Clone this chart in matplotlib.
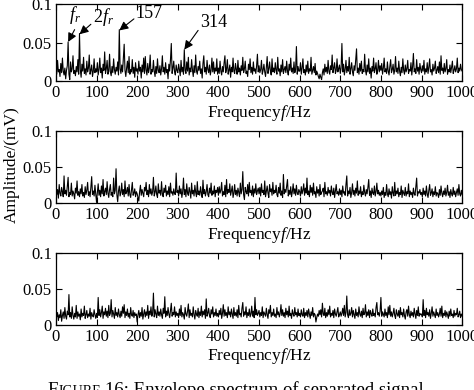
import numpy as np
import matplotlib
matplotlib.use("Agg")
import matplotlib.pyplot as plt

plt.rcParams['font.family'] = ['Liberation Serif', 'DejaVu Serif']
plt.rcParams['mathtext.fontset'] = 'custom'
plt.rcParams['mathtext.rm'] = 'Liberation Serif'
plt.rcParams['mathtext.it'] = 'Liberation Serif:italic'

# amplitudes in units of 0.001 mV, one value every 2 Hz from 0 to 1000 Hz
amp1 = [
    18, 9, 27, 12, 15, 6, 23, 11, 30, 13, 8, 17, 3, 14, 20, 51, 9, 2, 25, 12, 16, 33, 10, 14, 7,
    19, 12, 28, 9, 62, 15, 5, 22, 13, 31, 10, 16, 8, 26, 12, 17, 34, 9, 14, 21, 6, 13, 29, 11, 16,
    12, 24, 8, 15, 30, 11, 17, 4, 22, 14, 38, 10, 16, 27, 9, 13, 35, 12, 7, 19, 11, 29, 15, 9, 18,
    13, 25, 8, 67, 16, 10, 21, 12, 31, 48, 14, 6, 17, 26, 11, 32, 9, 15, 12, 28, 10, 18, 5, 24, 13,
    16, 9, 26, 13, 18, 4, 21, 12, 30, 10, 32, 14, 8, 23, 11, 17, 34, 9, 15, 12, 27, 13, 6, 19, 10,
    29, 14, 11, 20, 8, 16, 33, 12, 18, 9, 24, 11, 15, 3, 22, 13, 28, 49, 10, 17, 26, 12, 8, 21, 14,
    11, 22, 15, 7, 27, 12, 18, 9, 41, 14, 10, 25, 13, 31, 8, 17, 12, 28, 15, 6, 20, 11, 34, 13, 9,
    19, 14, 26, 10, 16, 4, 23, 33, 12, 18, 9, 27, 15, 11, 21, 8, 14, 30, 12, 25, 10, 17, 13, 29, 9,
    17, 10, 26, 13, 8, 19, 12, 24, 33, 11, 16, 28, 9, 14, 21, 5, 18, 12, 30, 13, 10, 23, 15, 9, 27,
    12, 17, 8, 20, 14, 31, 11, 16, 26, 10, 13, 6, 22, 15, 29, 11, 18, 9, 25, 13, 16, 10, 20, 35, 12,
    20, 11, 15, 27, 9, 14, 22, 12, 6, 18, 32, 10, 16, 25, 13, 8, 29, 12, 17, 11, 24, 14, 9, 31, 13,
    16, 7, 21, 12, 28, 10, 15, 19, 11, 26, 13, 8, 22, 14, 30, 12, 17, 10, 25, 11, 15, 45, 9, 19, 13,
    13, 24, 9, 17, 29, 11, 15, 8, 21, 12, 26, 10, 16, 13, 31, 9, 14, 19, 11, 23, 8, 13, 10, 6, 3,
    9, 5, 2, 11, 16, 8, 22, 12, 18, 10, 27, 13, 9, 20, 15, 34, 11, 17, 24, 10, 14, 29, 12, 16, 21,
    10, 17, 49, 12, 22, 8, 15, 27, 11, 19, 13, 31, 9, 16, 24, 12, 7, 20, 14, 28, 42, 11, 17, 9, 23,
    13, 26, 10, 15, 12, 35, 14, 8, 21, 12, 29, 10, 17, 4, 19, 13, 30, 11, 16, 24, 9, 14, 27, 12, 20,
    14, 23, 9, 17, 30, 12, 16, 10, 25, 13, 8, 19, 28, 11, 15, 22, 9, 14, 32, 12, 17, 10, 26, 13, 7,
    18, 11, 29, 14, 9, 21, 12, 16, 27, 10, 15, 13, 24, 8, 19, 36, 12, 16, 10, 28, 13, 18, 9, 23, 15,
    11, 20, 13, 27, 9, 16, 12, 24, 10, 18, 29, 12, 15, 8, 22, 13, 17, 26, 10, 14, 19, 11, 25, 9, 33,
    14, 17, 10, 23, 12, 16, 28, 9, 15, 12, 21, 11, 18, 26, 10, 14, 20, 12, 16, 30, 11, 17, 13, 22, 15,
    13,
]
amp2 = [
    30, 12, 19, 7, 26, 14, 10, 22, 16, 9, 38, 13, 18, 11, 24, 36, 9, 15, 12, 28, 10, 17, 13, 6, 21,
    14, 31, 11, 16, 9, 20, 13, 26, 10, 15, 8, 23, 12, 18, 29, 11, 16, 9, 22, 37, 12, 17, 10, 25, 13,
    1, 15, 27, 11, 18, 9, 24, 13, 33, 10, 16, 21, 12, 30, 14, 8, 19, 26, 11, 15, 9, 35, 13, 18, 48,
    12, 2, 17, 24, 10, 15, 28, 12, 19, 9, 31, 13, 16, 22, 10, 26, 12, 8, 18, 29, 11, 14, 20, 9, 16,
    13, 8, 3, 16, 25, 11, 19, 14, 9, 22, 17, 29, 12, 18, 9, 26, 13, 20, 11, 16, 36, 10, 15, 24, 12,
    8, 27, 14, 18, 11, 30, 13, 9, 21, 15, 25, 10, 17, 12, 23, 9, 28, 14, 16, 11, 20, 13, 12, 42, 15,
    18, 10, 24, 13, 20, 8, 16, 35, 12, 19, 9, 27, 14, 11, 22, 16, 7, 28, 13, 18, 10, 25, 15, 9, 30,
    12, 17, 11, 23, 14, 8, 32, 13, 19, 10, 16, 26, 12, 9, 21, 14, 28, 11, 17, 13, 24, 9, 18, 15, 22,
    11, 23, 14, 18, 29, 10, 16, 12, 25, 9, 33, 13, 19, 15, 27, 11, 17, 24, 8, 14, 26, 12, 18, 10, 21,
    15, 9, 28, 13, 19, 44, 12, 5, 22, 16, 13, 26, 10, 29, 15, 18, 11, 24, 9, 20, 14, 27, 12, 17, 21,
    13, 22, 10, 27, 15, 18, 12, 31, 9, 17, 24, 14, 8, 26, 16, 20, 11, 29, 13, 18, 15, 25, 12, 9, 22,
    14, 28, 11, 17, 8, 40, 13, 19, 15, 24, 33, 10, 18, 12, 23, 9, 16, 27, 13, 20, 11, 25, 14, 12, 19,
    16, 10, 23, 13, 18, 27, 11, 21, 14, 35, 12, 17, 9, 25, 15, 22, 11, 28, 13, 16, 8, 23, 14, 19, 10,
    26, 12, 15, 17, 21, 9, 29, 13, 16, 11, 22, 14, 18, 10, 24, 15, 12, 21, 8, 17, 26, 13, 16, 11, 20,
    12, 18, 9, 24, 14, 16, 11, 26, 38, 10, 17, 13, 22, 8, 15, 27, 12, 18, 10, 21, 14, 31, 11, 17, 13,
    23, 9, 16, 12, 25, 15, 10, 19, 13, 22, 33, 11, 17, 8, 21, 14, 12, 24, 10, 16, 28, 13, 18, 11, 15,
    10, 17, 12, 22, 8, 15, 11, 26, 13, 9, 20, 12, 16, 7, 23, 14, 10, 29, 11, 17, 13, 21, 9, 15, 12,
    24, 8, 18, 14, 11, 22, 10, 16, 13, 27, 9, 17, 12, 15, 8, 21, 13, 11, 23, 35, 10, 16, 14, 19, 12,
    15, 9, 21, 12, 17, 10, 24, 13, 8, 18, 26, 11, 14, 20, 9, 16, 12, 23, 10, 15, 13, 8, 19, 11, 24,
    14, 9, 17, 12, 21, 10, 15, 25, 11, 16, 8, 19, 13, 10, 22, 12, 17, 9, 15, 20, 11, 26, 13, 10, 18,
    12,
]
amp3 = [
    31, 11, 17, 6, 14, 10, 21, 5, 13, 18, 9, 24, 12, 8, 19, 14, 42, 11, 17, 9, 25, 13, 8, 16, 11,
    27, 9, 18, 12, 15, 7, 22, 11, 16, 13, 26, 9, 14, 20, 10, 15, 12, 23, 8, 17, 13, 11, 21, 14, 9,
    16, 10, 38, 13, 21, 11, 17, 26, 9, 18, 14, 23, 12, 19, 10, 27, 13, 16, 35, 11, 20, 15, 9, 24, 13,
    17, 11, 22, 14, 10, 19, 12, 25, 16, 28, 10, 18, 13, 22, 11, 16, 9, 24, 14, 12, 20, 10, 17, 13, 15,
    4, 14, 20, 10, 17, 12, 24, 8, 15, 21, 11, 18, 13, 27, 9, 19, 14, 25, 12, 16, 44, 11, 21, 15, 10,
    26, 13, 18, 12, 22, 14, 9, 23, 16, 39, 11, 19, 13, 24, 15, 10, 20, 30, 12, 17, 14, 25, 11, 18, 13,
    16, 10, 22, 13, 27, 11, 17, 14, 8, 24, 15, 12, 19, 29, 10, 21, 13, 16, 11, 25, 14, 8, 20, 15, 12,
    23, 10, 18, 13, 26, 11, 19, 14, 21, 9, 36, 12, 16, 23, 13, 10, 21, 15, 25, 11, 17, 13, 22, 12, 16,
    11, 20, 14, 23, 9, 16, 28, 12, 21, 13, 17, 10, 25, 14, 18, 11, 22, 15, 9, 24, 13, 17, 12, 21, 10,
    27, 14, 16, 11, 23, 31, 12, 18, 14, 25, 10, 17, 13, 22, 11, 15, 26, 12, 19, 10, 38, 14, 21, 13, 16,
    20, 11, 17, 13, 25, 10, 18, 15, 12, 23, 14, 9, 21, 16, 27, 11, 17, 13, 22, 12, 15, 10, 24, 14, 18,
    11, 16, 28, 13, 21, 12, 17, 10, 23, 14, 19, 11, 26, 13, 16, 9, 21, 15, 12, 24, 14, 17, 11, 22, 13,
    16, 11, 21, 14, 12, 23, 10, 17, 13, 20, 11, 22, 15, 9, 18, 13, 24, 11, 16, 14, 4, 10, 15, 12, 20,
    14, 21, 11, 30, 15, 13, 23, 10, 17, 12, 21, 14, 26, 11, 16, 13, 20, 10, 22, 15, 12, 18, 24, 11, 14,
    18, 12, 16, 23, 13, 27, 11, 17, 40, 14, 10, 21, 13, 16, 24, 11, 20, 14, 9, 22, 13, 17, 11, 25, 15,
    12, 19, 10, 23, 14, 16, 28, 11, 18, 13, 21, 10, 20, 15, 12, 22, 13, 16, 11, 24, 31, 14, 17, 12, 19,
    38, 12, 18, 15, 11, 22, 13, 17, 10, 25, 14, 27, 12, 18, 11, 16, 23, 13, 9, 21, 15, 12, 20, 10, 24,
    14, 17, 11, 22, 13, 8, 18, 21, 12, 26, 14, 10, 19, 13, 17, 11, 23, 15, 9, 20, 13, 25, 12, 16, 14,
    15, 11, 35, 13, 20, 10, 23, 14, 17, 12, 21, 9, 16, 25, 12, 18, 14, 10, 22, 13, 17, 11, 15, 23, 12,
    26, 10, 16, 13, 20, 11, 18, 14, 9, 19, 12, 22, 13, 15, 10, 20, 12, 16, 14, 23, 11, 14, 19, 10, 15,
    12,
]

xticks = [0, 100, 200, 300, 400, 500, 600, 700, 800, 900, 1000]
yticks = [0, 0.05, 0.1]
ytick_labels = ['0', '0.05', '0.1']

# annotations on the first panel: (label, peak point, arrow tail, text position)
notes = [
    ('$f_r$', (30, 0.051), (46, 0.067), (46, 0.086)),
    ('$2f_r$', (58, 0.061), (86, 0.074), (116, 0.083)),
    ('157', (156, 0.066), (192, 0.081), (230, 0.088)),
    ('314', (316, 0.041), (350, 0.066), (388, 0.076)),
]

fig = plt.figure(figsize=(4.74, 3.9), dpi=100)
boxes = [
    [0.118, 0.792, 0.857, 0.197],
    [0.118, 0.479, 0.857, 0.184],
    [0.118, 0.167, 0.857, 0.185],
]

for box, amp in zip(boxes, [amp1, amp2, amp3]):
    ax = fig.add_axes(box)
    a = np.array(amp) / 1000.0
    f = np.linspace(0, 1000, len(a))
    ax.plot(f, a, color='k', lw=0.8)
    ax.set_xlim(0, 1000)
    ax.set_ylim(0, 0.1)
    ax.set_xticks(xticks)
    ax.set_yticks(yticks)
    ax.set_yticklabels(ytick_labels)
    ax.tick_params(direction='in', top=True, right=True, labelsize=12,
                   length=4, width=0.8, pad=3)
    for s in ax.spines.values():
        s.set_linewidth(0.9)
    ax.set_xlabel('Frequency$f$/Hz', fontsize=12.5, labelpad=1)

ax1 = fig.axes[0]
for label, tip, tail, pos in notes:
    ax1.annotate('', xy=tip, xytext=tail,
                 arrowprops=dict(arrowstyle='-|>', color='k', lw=0.8,
                                 mutation_scale=13, shrinkA=0, shrinkB=0))
    ax1.text(pos[0], pos[1], label, fontsize=13, ha='center', va='center')

fig.text(0.024, 0.577, 'Amplitude/(mV)', rotation=90, fontsize=12.5,
         ha='center', va='center')

# caption in small caps style
first = fig.text(0.101, -0.012, 'F', fontsize=13.5, ha='left', va='baseline')
fig.canvas.draw()
bb = first.get_window_extent()
t = fig.text(bb.x1 / fig.bbox.width, -0.012, 'IGURE', fontsize=10,
             ha='left', va='baseline')
fig.canvas.draw()
bb = t.get_window_extent()
fig.text(bb.x1 / fig.bbox.width + 0.009, -0.012,
         '16: Envelope spectrum of separated signal', fontsize=13.5,
         ha='left', va='baseline')

fig.savefig('out.png', dpi=100)
